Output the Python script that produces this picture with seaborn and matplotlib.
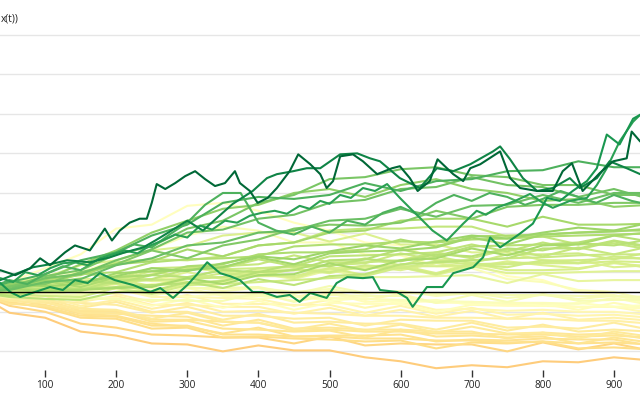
# random walks x(t), coloured by end value
import numpy as np
import pandas as pd
import matplotlib
matplotlib.use("Agg")
import matplotlib.pyplot as plt
import seaborn as sns
from matplotlib.colors import ListedColormap

# prominent walks
walk_a_t = [0, 18, 37, 58, 79, 93, 107, 128, 142, 163, 184, 194, 205, 219, 233, 243, 250, 257, 269, 283,
            297, 311, 325, 339, 353, 367, 374, 388, 399, 413, 426, 444, 456, 473, 487, 496, 505, 515, 533, 547,
            567, 588, 599, 613, 624, 641, 652, 674, 688, 698, 712, 740, 754, 768, 792, 814, 828, 841, 856, 880,
            899, 918, 925, 937, 1000]
walk_a_x = [0, 12, 22, 17, 24, 34, 27, 40, 47, 42, 64, 52, 62, 70, 74, 74, 90, 109, 104, 110,
            117, 122, 114, 107, 110, 122, 110, 102, 90, 95, 105, 122, 139, 129, 119, 105, 112, 137, 139, 132,
            119, 125, 127, 115, 102, 112, 134, 119, 112, 125, 129, 142, 115, 105, 102, 102, 122, 130, 102, 120,
            132, 135, 162, 152, 200]

walk_b_t = [0, 20, 37, 51, 65, 86, 107, 125, 142, 160, 177, 198, 224, 248, 262, 280, 300, 314, 328, 346,
            360, 374, 392, 406, 426, 444, 458, 473, 496, 510, 525, 547, 561, 571, 595, 609, 617, 637, 659, 674,
            702, 716, 726, 740, 768, 786, 806, 824, 842, 862, 876, 890, 908, 927, 937, 1000]
walk_b_x = [0, 4, 9, 0, -5, 0, 5, 2, 12, 9, 19, 12, 7, 0, 4, -6, 7, 18, 30, 19,
            16, 12, 0, 0, -5, -3, -10, -1, -6, 9, 15, 14, 15, 2, 0, -6, -15, 5, 5, 19,
            25, 35, 55, 45, 59, 69, 95, 92, 102, 112, 125, 159, 149, 175, 179, 150]

walk_c_t = [0, 18, 37, 58, 83, 107, 131, 163, 191, 212, 238, 255, 271, 300, 322, 342, 364, 392, 412, 426,
            449, 468, 487, 515, 539, 557, 571, 599, 627, 651, 674, 698, 730, 740, 754, 772, 792, 814, 838, 852,
            876, 894, 918, 937, 1000]
walk_c_x = [0, 6, 12, 18, 25, 28, 32, 30, 35, 40, 45, 52, 59, 72, 62, 75, 89, 102, 115, 119,
            122, 125, 125, 139, 140, 135, 132, 115, 105, 125, 122, 129, 142, 147, 134, 115, 102, 105, 115, 105,
            115, 132, 125, 119, 165]

walk_e_t = [0, 18, 37, 55, 72, 90, 107, 125, 142, 160, 177, 195, 212, 230, 248, 265, 283, 300, 318, 335,
            353, 370, 388, 405, 423, 440, 458, 472, 487, 500, 515, 530, 547, 564, 581, 599, 617, 627, 645, 665,
            688, 707, 720, 735, 761, 782, 800, 814, 838, 862, 876, 890, 908, 927, 937, 1000]
walk_e_x = [0, 8, 14, 10, 20, 17, 24, 29, 30, 27, 34, 38, 42, 39, 47, 52, 58, 55, 67, 63,
            72, 70, 77, 80, 82, 79, 87, 84, 92, 89, 98, 95, 105, 102, 109, 95, 82, 75, 62, 52,
            69, 82, 78, 85, 92, 99, 90, 85, 92, 95, 108, 125, 152, 172, 179, 140]

# medium green walk, every 25 steps
t_fine = list(range(0, 1001, 25))
walk_f = [0, 5, 12, 8, 18, 26, 22, 33, 40, 48, 45, 58, 70, 88, 100, 100, 70, 62, 58, 66,
          60, 72, 68, 80, 86, 78, 90, 98, 92, 100, 96, 88, 94, 102, 96, 90, 98, 92, 88, 95, 120]

# background walks, read every 50 steps
t_coarse = list(range(0, 1001, 50))
walk_m1 = [0, 8, 13, 28, 42, 60, 72, 84, 88, 100, 104, 96, 108, 114, 104, 100, 92, 94, 86, 88, 82]
walk_m2 = [0, 5, 16, 22, 38, 46, 64, 72, 90, 98, 114, 116, 124, 126, 118, 116, 108, 108, 98, 98, 95]
walk_m3 = [0, 10, 18, 32, 40, 57, 68, 90, 96, 94, 98, 110, 102, 112, 114, 122, 123, 132, 126, 126, 120]
walk_m4 = [0, 2, 10, 13, 27, 34, 47, 50, 60, 62, 72, 74, 84, 76, 87, 88, 98, 90, 100, 100, 104]
walk_m5 = [0, 6, 8, 20, 28, 42, 34, 47, 53, 64, 68, 67, 70, 82, 74, 86, 88, 88, 90, 90, 90]
walk_m6 = [0, 3, 14, 18, 32, 43, 60, 63, 74, 78, 90, 93, 104, 106, 116, 108, 106, 96, 104, 94, 100]

walk_g1 = [0, 3, 9, 10, 12, 12, 20, 13, 22, 22, 23, 24, 25, 17, 26, 19, 19, 20, 21, 21, 20]
walk_g2 = [0, -3, 4, 4, 13, 6, 15, 15, 16, 16, 24, 17, 26, 26, 27, 28, 29, 29, 31, 30, 30]
walk_g3 = [0, 5, 1, 10, 12, 21, 14, 23, 24, 25, 26, 34, 27, 36, 29, 38, 38, 39, 33, 40, 36]
walk_g4 = [0, 8, 10, 20, 13, 24, 25, 26, 28, 37, 30, 30, 32, 40, 34, 43, 36, 45, 38, 46, 42]
walk_g5 = [0, 2, 8, 2, 12, 13, 23, 24, 33, 26, 36, 37, 38, 40, 48, 41, 50, 43, 51, 45, 48]
walk_g6 = [0, -4, 3, 3, 5, 7, 9, 11, 20, 22, 32, 33, 43, 36, 46, 47, 48, 50, 57, 51, 54]
walk_g7 = [0, 6, 8, 18, 20, 30, 33, 34, 36, 46, 48, 48, 51, 50, 53, 54, 56, 57, 58, 59, 58]
walk_g8 = [0, 4, 11, 5, 15, 17, 26, 28, 38, 40, 40, 43, 53, 46, 56, 57, 58, 60, 62, 62, 62]
walk_g9 = [0, -2, -4, -5, 4, -2, 7, 8, 10, 12, 14, 16, 25, 18, 28, 29, 30, 32, 34, 34, 34]
walk_g10 = [0, 1, 7, 8, 18, 11, 10, 10, 19, 13, 22, 15, 15, 16, 17, 9, 18, 11, 12, 12, 12]
walk_g11 = [0, 9, 15, 27, 32, 42, 46, 57, 60, 60, 51, 59, 48, 48, 40, 40, 32, 32, 25, 27, 24]
walk_g12 = [0, 5, 14, 18, 30, 33, 32, 36, 47, 50, 62, 64, 64, 66, 66, 56, 56, 48, 49, 43, 44]
walk_g13 = [0, -5, -7, -8, 0, 1, 10, 4, 13, 7, 16, 18, 28, 30, 32, 34, 44, 44, 52, 46, 50]
walk_g14 = [0, 3, 1, 2, 4, 5, 14, 8, 17, 18, 29, 22, 32, 34, 44, 37, 47, 48, 57, 60, 66]
walk_g15 = [0, 7, 6, 8, 19, 21, 22, 25, 35, 28, 39, 41, 42, 45, 55, 48, 58, 60, 61, 64, 70]
walk_g16 = [0, -1, 5, 7, 8, 0, 9, 11, 21, 14, 24, 26, 27, 19, 29, 22, 22, 23, 30, 24, 27]
walk_g17 = [0, 4, 13, 17, 28, 31, 43, 36, 47, 50, 60, 62, 72, 74, 74, 66, 76, 68, 68, 69, 68]
walk_g18 = [0, 2, 0, 1, 10, 12, 13, 15, 24, 26, 27, 29, 39, 32, 32, 34, 35, 37, 38, 38, 38]
walk_g19 = [0, 5, 3, 11, 9, 17, 15, 22, 20, 28, 26, 33, 31, 38, 36, 44, 42, 49, 47, 53, 52]
walk_g20 = [0, -2, 5, 2, 9, 6, 13, 19, 16, 23, 20, 27, 24, 31, 28, 25, 32, 29, 36, 33, 35]
walk_g21 = [0, 6, 12, 9, 16, 24, 21, 29, 36, 33, 41, 47, 44, 51, 57, 54, 60, 65, 62, 70, 74]
walk_g22 = [0, 3, 8, 14, 11, 18, 24, 21, 17, 23, 19, 26, 22, 29, 25, 31, 27, 24, 29, 26, 25]

walk_y1 = [0, -4, -4, -14, -8, -17, -11, -20, -19, -21, -22, -24, -24, -26, -26, -27, -27, -29, -29, -32, -32]
walk_y2 = [0, 2, -1, -10, -4, -13, -13, -15, -15, -22, -16, -24, -18, -25, -19, -27, -21, -28, -26, -29, -29]
walk_y3 = [0, -6, 0, 1, -2, -10, -3, -12, -12, -13, -13, -21, -14, -22, -16, -23, -22, -24, -23, -26, -26]
walk_y4 = [0, 3, 10, 3, 3, -5, -5, -6, -7, -14, -8, -16, -10, -18, -17, -19, -18, -20, -20, -23, -23]
walk_y5 = [0, 4, 11, 12, 12, 13, 14, 4, 4, -5, 1, -8, -2, -11, -10, -12, -13, -15, -15, -21, -20]
walk_y6 = [0, -2, 6, -1, 8, 1, 0, -1, -2, -9, -1, -10, -9, -10, -11, -12, -12, -18, -11, -17, -17]
walk_y7 = [0, 10, 24, 38, 64, 68, 87, 90, 82, 70, 62, 50, 47, 33, 30, 16, 12, 0, -3, -12, -14]
walk_y8 = [0, 7, 17, 20, 32, 43, 57, 66, 62, 50, 50, 38, 37, 26, 24, 13, 10, 2, 0, -8, -8]
walk_y9 = [0, -3, 3, -7, -7, -8, -9, -9, -1, -10, -3, -4, -4, -11, -3, -10, -2, -9, -8, -8, -5]
walk_y10 = [0, 1, -2, -3, 5, -4, 4, 4, 5, -2, 6, -1, -1, -2, -2, -3, -3, -4, -4, -5, -2]
walk_y11 = [0, -5, -7, -6, -6, -14, -7, -16, -9, -18, -11, -12, -12, -20, -13, -14, -14, -15, -15, -17, -16]
walk_y12 = [0, 3, 2, 3, 11, 4, 4, -4, -4, -5, -6, -7, -8, -9, -10, -11, -11, -12, -6, -13, -10]
walk_y13 = [0, -3, 2, -1, 4, 0, -5, -2, -7, -4, -9, -6, -11, -8, -13, -10, -14, -11, -15, -13, -12]
walk_y14 = [0, 4, 1, 6, 3, 8, 5, 1, 4, 0, 3, -2, 1, -4, -1, -6, -3, -7, -4, -8, -6]

walk_o1 = [0, -14, -20, -32, -36, -43, -44, -46, -46, -52, -45, -54, -52, -53, -53, -60, -51, -58, -52, -59, -60]
walk_o2 = [0, -10, -16, -26, -27, -37, -36, -46, -45, -47, -48, -50, -49, -57, -51, -52, -50, -57, -56, -58, -55]
walk_o3 = [0, -8, -13, -22, -24, -32, -35, -42, -36, -45, -44, -44, -43, -50, -48, -49, -47, -48, -48, -54, -50]
walk_o4 = [0, -12, -14, -20, -20, -30, -29, -37, -38, -40, -39, -46, -38, -45, -44, -46, -45, -52, -46, -51, -47]
walk_o5 = [0, -5, -10, -21, -22, -24, -25, -34, -28, -37, -36, -38, -38, -40, -40, -47, -41, -43, -42, -48, -44]
walk_o6 = [0, -9, -11, -17, -18, -27, -21, -30, -31, -38, -32, -39, -33, -41, -35, -42, -41, -47, -40, -45, -41]
walk_o7 = [0, -3, -7, -16, -10, -20, -20, -28, -22, -31, -30, -32, -32, -38, -31, -39, -33, -40, -38, -40, -39]
walk_o8 = [0, -7, -9, -11, -13, -21, -15, -24, -24, -27, -26, -34, -28, -29, -29, -36, -35, -37, -31, -38, -37]
walk_o9 = [0, -11, -15, -24, -25, -34, -34, -43, -43, -45, -45, -47, -47, -49, -49, -51, -50, -52, -51, -53, -52]
walk_o10 = [0, -6, -8, -19, -19, -28, -28, -30, -31, -39, -38, -40, -40, -42, -42, -43, -43, -45, -44, -46, -45]
walk_low = [0, -21, -26, -40, -44, -52, -53, -60, -54, -59, -59, -66, -70, -77, -74, -76, -70, -71, -66, -69, -70]

point_walks = {"a": (walk_a_t, walk_a_x), "b": (walk_b_t, walk_b_x),
               "c": (walk_c_t, walk_c_x), "e": (walk_e_t, walk_e_x),
               "f": (t_fine, walk_f)}
coarse_walks = {
    "m1": walk_m1, "m2": walk_m2, "m3": walk_m3, "m4": walk_m4, "m5": walk_m5, "m6": walk_m6,
    "g1": walk_g1, "g2": walk_g2, "g3": walk_g3, "g4": walk_g4, "g5": walk_g5, "g6": walk_g6,
    "g7": walk_g7, "g8": walk_g8, "g9": walk_g9, "g10": walk_g10, "g11": walk_g11, "g12": walk_g12,
    "g13": walk_g13, "g14": walk_g14, "g15": walk_g15, "g16": walk_g16, "g17": walk_g17, "g18": walk_g18,
    "g19": walk_g19, "g20": walk_g20, "g21": walk_g21, "g22": walk_g22,
    "y1": walk_y1, "y2": walk_y2, "y3": walk_y3, "y4": walk_y4, "y5": walk_y5, "y6": walk_y6,
    "y7": walk_y7, "y8": walk_y8, "y9": walk_y9, "y10": walk_y10, "y11": walk_y11, "y12": walk_y12,
    "y13": walk_y13, "y14": walk_y14,
    "o1": walk_o1, "o2": walk_o2, "o3": walk_o3, "o4": walk_o4, "o5": walk_o5, "o6": walk_o6,
    "o7": walk_o7, "o8": walk_o8, "o9": walk_o9, "o10": walk_o10, "low": walk_low,
}
grid_values = [-60, -20, 20, 60, 100, 140, 180, 220, 260]
x_ticks = [100, 200, 300, 400, 500, 600, 700, 800, 900]

rows = []
for name, (ts, vals) in point_walks.items():
    for t, v in zip(ts, vals):
        rows.append({"walk": name, "t": t, "x": v})
for name, vals in coarse_walks.items():
    for t, v in zip(t_coarse, vals):
        rows.append({"walk": name, "t": t, "x": v})
df = pd.DataFrame(rows)
df["final"] = df.groupby("walk")["x"].transform("last")

sns.set_theme(style="white")
plt.rcParams["font.family"] = ["Open Sans", "DejaVu Sans"]

cmap = ListedColormap(plt.get_cmap("RdYlGn")(np.linspace(0.36, 1.0, 256)))

fig = plt.figure(figsize=(6.4, 4.0), dpi=100)
# plot area runs past the left and right edge of the picture
ax = fig.add_axes([-26 / 640, 30 / 400, 711 / 640, 350 / 400])
ax.set_xlim(0, 1000)
ax.set_ylim(-78.8, 274.7)
ax.set_yticks(grid_values)
ax.grid(axis="y", color="#e6e6e6", linewidth=1)
ax.set_axisbelow(True)

sns.lineplot(data=df, x="t", y="x", units="walk", estimator=None, hue="final",
             palette=cmap, hue_norm=(-70, 190), legend=False, linewidth=1.5,
             alpha=1.0, sort=False, ax=ax)
ax.axhline(0, color="black", linewidth=1, zorder=10)

sns.despine(ax=ax, left=True, bottom=True)
ax.set_xticks(x_ticks)
ax.tick_params(axis="x", bottom=True, length=5, width=1, color="#333333",
               pad=2, labelsize=7.3, labelcolor="#222222")
ax.tick_params(axis="y", left=False, labelleft=False)
ax.set_xlabel("")
ax.set_ylabel("")

fig.text(1 / 640, 1 - 19 / 400, "x(t))", ha="left", va="center", fontsize=7.3, color="#222222")

fig.savefig("out.png", dpi=100)
